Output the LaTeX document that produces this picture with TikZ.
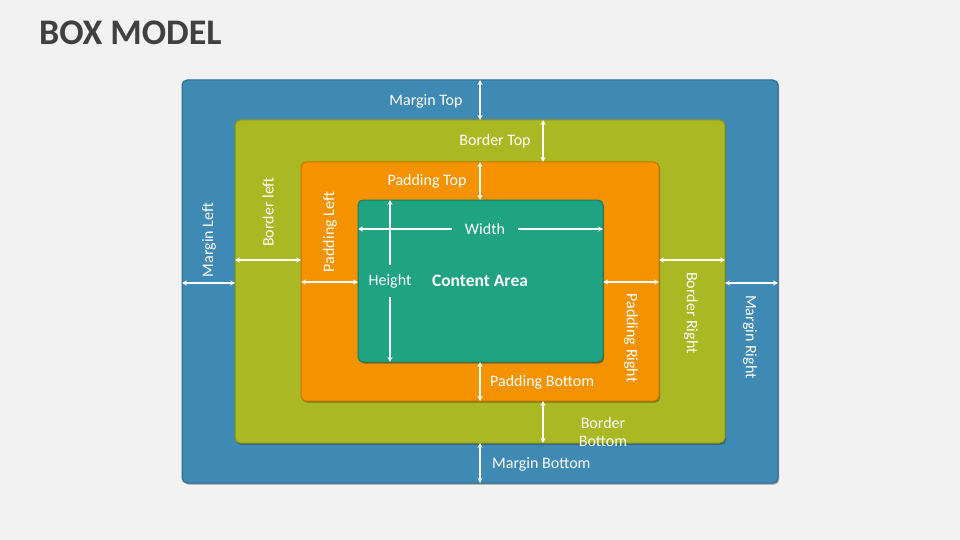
\documentclass[tikz,border=0pt]{standalone}
\usepackage{fontspec}
\setmainfont{Carlito}
\usetikzlibrary{arrows.meta,shadows}
\definecolor{bgc}{HTML}{F2F2F2}
\definecolor{titlec}{HTML}{404040}
\definecolor{mfill}{HTML}{3F89B5}
\definecolor{mdraw}{HTML}{2E6A8E}
\definecolor{bfill}{HTML}{A9B823}
\definecolor{bdraw}{HTML}{859419}
\definecolor{pfill}{HTML}{F59200}
\definecolor{pdraw}{HTML}{C57400}
\definecolor{cfill}{HTML}{1FA383}
\definecolor{cdraw}{HTML}{167A62}
\tikzset{
  layer/.style={rectangle, rounded corners=5pt, line width=1pt, outer sep=0pt, inner sep=0pt,
    drop shadow={shadow xshift=1.2pt, shadow yshift=-1.5pt, opacity=0.35, fill=black}},
  dim/.style={draw=white, line width=1.5pt, {Stealth[length=5pt,width=5pt]}-{Stealth[length=5pt,width=5pt]}},
  dimone/.style={draw=white, line width=1.5pt, -{Stealth[length=5pt,width=5pt]}},
  lbl/.style={text=white, font=\fontsize{16}{18}\selectfont, inner sep=0pt},
}
\begin{document}
\begin{tikzpicture}[x=1pt,y=-1pt]
\fill[bgc] (0,0) rectangle (960,540);
\useasboundingbox (0,0) rectangle (960,540);
\node[anchor=base west, text=titlec, font=\fontsize{36}{40}\selectfont\bfseries, inner sep=0pt] (title) at (39,45) {BOX MODEL};
% boxes
\node[layer, fill=mfill, draw=mdraw, minimum width=596pt, minimum height=403pt] (margin) at (480,281.5) {};
\node[layer, fill=bfill, draw=bdraw, minimum width=490pt, minimum height=323pt] (border) at (480,281.5) {};
\node[layer, fill=pfill, draw=pdraw, minimum width=358pt, minimum height=239pt] (padding) at (480,281.5) {};
\node[layer, fill=cfill, draw=cdraw, minimum width=245pt, minimum height=162pt] (content) at (480.5,281) {};
% coordinates for arrow positions
\coordinate (xa) at (480,0);
\coordinate (xb) at (543,0);
\coordinate (xh) at (390,0);
\coordinate (yb) at (0,260);
\coordinate (ym) at (0,283);
\coordinate (yp) at (0,282);
% top arrows
\draw[dim] (xa |- margin.north) -- (xa |- border.north);
\draw[dim] (xb |- border.north) -- (xb |- padding.north);
\draw[dim] (xa |- padding.north) -- (xa |- content.north);
% bottom arrows
\draw[dim] (xa |- content.south) -- (xa |- padding.south);
\draw[dim] (xb |- padding.south) -- (xb |- border.south);
\draw[dim] (xa |- border.south) -- (xa |- margin.south);
% left arrows
\draw[dim] (margin.west |- ym) -- (border.west |- ym);
\draw[dim] (border.west |- yb) -- (padding.west |- yb);
\draw[dim] (padding.west |- yp) -- (content.west |- yp);
% right arrows
\draw[dim] (content.east |- yp) -- (padding.east |- yp);
\draw[dim] (padding.east |- yb) -- (border.east |- yb);
\draw[dim] (border.east |- ym) -- (margin.east |- ym);
% labels
\node[lbl] (lmt) at (426,101) {Margin Top};
\node[lbl] (lbt) at (495,141) {Border Top};
\node[lbl] (lpt) at (427,181) {Padding Top};
\node[lbl, anchor=west] (lpb) at (490,382) {Padding Bottom};
\node[lbl, align=center] (lbb) at (603,432) {Border\\Bottom};
\node[lbl, anchor=west] (lmb) at (492,464) {Margin Bottom};
\node[lbl, rotate=90] (lml) at (209,240) {Margin Left};
\node[lbl, rotate=90] (lbl2) at (268,212) {Border left};
\node[lbl, rotate=90] (lpl) at (330,232) {Padding Left};
\node[lbl, rotate=-90] (lpr) at (631,338) {Padding Right};
\node[lbl, rotate=-90] (lbr) at (691,313) {Border Right};
\node[lbl, rotate=-90] (lmr) at (750,337) {Margin Right};
% content
\node[lbl, inner xsep=13pt] (wid) at (485,229) {Width};
\draw[dimone] (wid.west) -- (content.west |- wid.west);
\draw[dimone] (wid.east) -- (content.east |- wid.east);
\node[lbl, inner ysep=9pt] (hei) at (390,281) {Height};
\draw[dimone] (hei.north) -- (xh |- content.north);
\draw[dimone] (hei.south) -- (xh |- content.south);
\node[lbl, font=\fontsize{17.5}{20}\selectfont\bfseries] (ca) at (480,281) {Content Area};
\end{tikzpicture}
\end{document}
